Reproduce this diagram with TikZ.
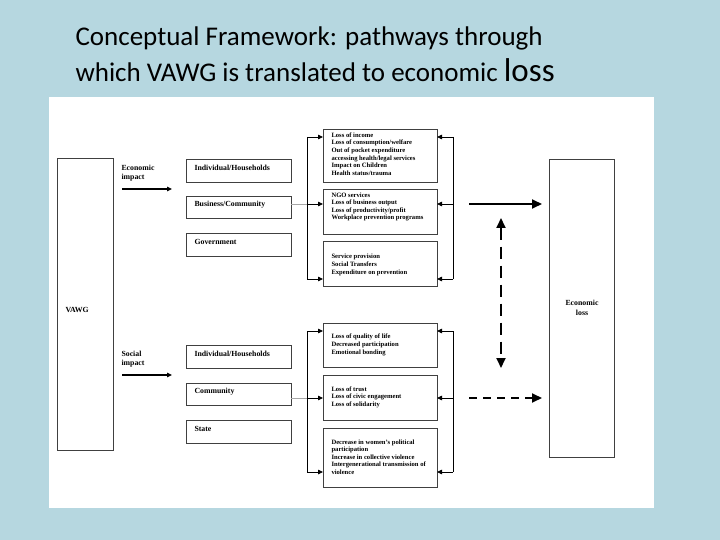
\documentclass[tikz,border=0pt]{standalone}
\usepackage{fontspec}
\setmainfont{Liberation Serif}
\newfontfamily\titlefont{Carlito}
\usetikzlibrary{arrows.meta}
\definecolor{bg}{HTML}{B6D7E0}
\begin{document}
\begin{tikzpicture}[x=1pt,y=-1pt,
  box/.style={draw=black!75,line width=0.7pt,inner sep=0pt},
  txt/.style={font=\bfseries\fontsize{6.6}{7.6}\selectfont,align=left,anchor=west},
  lab/.style={font=\bfseries\fontsize{7.8}{9.5}\selectfont,align=left,anchor=west},
  arr/.style={-{Triangle[length=5pt,width=4.5pt]},line width=0.8pt},
  big/.style={-{Triangle[length=10pt,width=9pt]},line width=1.8pt}]
\useasboundingbox (0,0) rectangle (720,540);
\fill[bg] (0,0) rectangle (720,540);
\fill[white] (49,97) rectangle (654,508);
\node[anchor=west,font=\titlefont\fontsize{27}{36}\selectfont,align=left] (title) at (72,54)
 {Conceptual Framework: pathways through\\which VAWG is translated to economic {\fontsize{33}{36}\selectfont loss}};
% VAWG
\draw[box] (57,158) rectangle (113,450);
\node[lab] (vawg) at (62,310) {VAWG};
% impacts
\node[lab] (eco) at (118,173) {Economic\\impact};
\coordinate (ea1) at (122,189); \coordinate (ea2) at (172,189);
\draw[arr,line width=1.4pt] (ea1) -- (ea2);
\node[lab] (soc) at (118,359) {Social\\impact};
\coordinate (sa1) at (122,375); \coordinate (sa2) at (172,375);
\draw[arr,line width=1.4pt] (sa1) -- (sa2);
% middle boxes
\foreach \n/\t/\a/\b in {ih/Individual\slash Households/159/182, bc/Business\slash Community/196/218, gov/Government/233/256,
  ih2/Individual\slash Households/345/368, com/Community/383/405, st/State/420/443}{
  \draw[box] (186,\a) rectangle (291,\b);
  \node[lab] (\n) at (191,\a+9) {\t};
}
% right boxes
\draw[box] (323,129) rectangle (437,182);
\node[txt] (r1) at (328,154) {Loss of income\\Loss of consumption/welfare\\Out of pocket expenditure\\accessing health/legal services\\Impact on Children\\Health status/trauma};
\draw[box] (323,189) rectangle (437,234);
\node[txt] (r2) at (328,207) {NGO services\\Loss of business output\\Loss of productivity/profit\\Workplace prevention programs};
\draw[box] (323,241) rectangle (437,286);
\node[txt] (r3) at (328,265) {Service provision\\Social Transfers\\Expenditure on prevention};
\draw[box] (323,323) rectangle (437,367);
\node[txt] (r4) at (328,345) {Loss of quality of life\\Decreased participation\\Emotional bonding};
\draw[box] (323,375) rectangle (437,420);
\node[txt] (r5) at (328,397) {Loss of trust\\Loss of civic engagement\\Loss of solidarity};
\draw[box] (323,428) rectangle (437,487);
\node[txt] (r6) at (328,457) {Decrease in women's political\\participation\\Increase in collective violence\\Intergenerational transmission of\\violence};
% brackets
\foreach \ya/\yb/\yc in {137/204/279, 331/398/472}{
  \draw[line width=0.8pt] (307,\ya) -- (307,\yc);
  \draw[line width=0.8pt] (453,\ya) -- (453,\yc);
  \draw[black!35,line width=0.6pt] (291,\yb) -- (307,\yb);
  \foreach \y in {\ya,\yb,\yc}{
    \draw[arr] (307,\y) -- (323,\y);
    \draw[arr] (453,\y) -- (437,\y);
  }
}
% economic loss
\draw[box] (549,159) rectangle (614,457);
\node[lab,anchor=center,align=center] (el) at (582,308) {Economic\\loss};
\coordinate (b1) at (469,204); \coordinate (b2) at (542,204);
\draw[big] (b1) -- (b2);
\coordinate (d1) at (469,398); \coordinate (d2) at (542,398);
\draw[big,dash pattern=on 8pt off 6pt] (d1) -- (d2);
\coordinate (v1) at (501,218); \coordinate (v2) at (501,368);
\draw[{Triangle[length=10pt,width=9pt]}-{Triangle[length=10pt,width=9pt]},line width=1.8pt,dash pattern=on 12pt off 7pt] (v1) -- (v2);
\end{tikzpicture}
\end{document}
